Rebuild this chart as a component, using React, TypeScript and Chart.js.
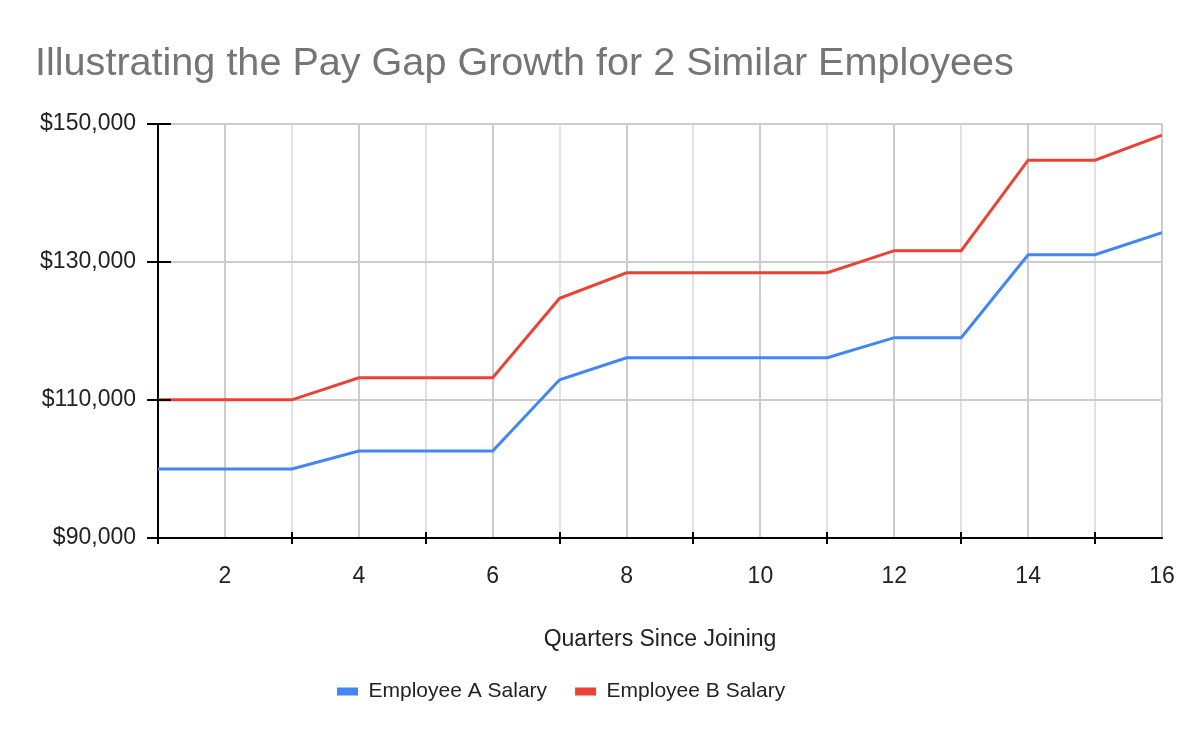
import React, { useEffect, useRef } from "react";
import { Chart, registerables } from "chart.js";

Chart.register(...registerables);

const TITLE = "Illustrating the Pay Gap Growth for 2 Similar Employees";
const X_TITLE = "Quarters Since Joining";
const quarters = [1, 2, 3, 4, 5, 6, 7, 8, 9, 10, 11, 12, 13, 14, 15, 16];
const employeeA = [100000, 100000, 100000, 102600, 102600, 102600, 112900, 116100, 116100, 116100, 116100, 119000, 119000, 131000, 131000, 134200];
const employeeB = [110000, 110000, 110000, 113200, 113200, 113200, 124700, 128400, 128400, 128400, 128400, 131600, 131600, 144700, 144700, 148300];
const seriesNames = ["Employee A Salary", "Employee B Salary"];
const seriesColors = ["#4285F4", "#EA4335"];
const yTicks = [90000, 110000, 130000, 150000];
const xTickLabels = [2, 4, 6, 8, 10, 12, 14, 16];

const FONT = "Arial, 'Liberation Sans', sans-serif";

const axisTicks = {
  id: "axisTicks",
  afterDatasetsDraw(chart: any) {
    const { ctx, chartArea, scales } = chart;
    const x = scales.x;
    const y = scales.y;
    ctx.save();
    ctx.strokeStyle = "#000000";
    ctx.lineWidth = 2;
    ctx.beginPath();
    quarters
      .filter((q) => !xTickLabels.includes(q))
      .forEach((q) => {
        const px = Math.round(x.getPixelForValue(q));
        ctx.moveTo(px, chartArea.bottom - 6);
        ctx.lineTo(px, chartArea.bottom + 6);
      });
    yTicks.forEach((v) => {
      const py = Math.round(y.getPixelForValue(v));
      ctx.moveTo(chartArea.left - 11, py);
      ctx.lineTo(chartArea.left + 13, py);
    });
    ctx.stroke();
    ctx.restore();
  },
};

const legendShift = {
  id: "legendShift",
  afterLayout(chart: any) {
    const lg = chart.legend;
    if (!lg || !lg.lineWidths) return;
    const pad = lg.options.labels.padding;
    const x0 = (lg.left + pad + (lg.right - lg.lineWidths[0])) / 2;
    const dx = 337 - x0;
    lg.left += dx;
    lg.right += dx;
  },
};

export default function App() {
  const ref = useRef<HTMLCanvasElement | null>(null);

  useEffect(() => {
    if (!ref.current) return;
    const chart = new Chart(ref.current, {
      type: "line",
      data: {
        datasets: [
          {
            label: seriesNames[0],
            data: quarters.map((q, i) => ({ x: q, y: employeeA[i] })),
            borderColor: seriesColors[0],
            backgroundColor: seriesColors[0],
            borderWidth: 3,
            pointRadius: 0,
            tension: 0,
          },
          {
            label: seriesNames[1],
            data: quarters.map((q, i) => ({ x: q, y: employeeB[i] })),
            borderColor: seriesColors[1],
            backgroundColor: seriesColors[1],
            borderWidth: 3,
            pointRadius: 0,
            tension: 0,
          },
        ],
      },
      options: {
        responsive: false,
        animation: false,
        devicePixelRatio: 1,
        layout: { padding: { left: 35, right: 38, top: 0, bottom: 30 } },
        plugins: {
          title: {
            display: true,
            text: TITLE,
            align: "start",
            color: "#757575",
            font: { family: FONT, size: 39.6, weight: "normal" },
            padding: { top: 40, bottom: 36 },
          },
          legend: {
            position: "bottom",
            labels: {
              boxWidth: 21,
              boxHeight: 8,
              padding: 28,
              color: "#222222",
              font: { family: FONT, size: 21 },
              generateLabels: (ch: any) =>
                Chart.defaults.plugins.legend.labels.generateLabels(ch).map((it: any) => ({
                  ...it,
                  lineWidth: 0,
                })),
            },
          },
          tooltip: { enabled: false },
        },
        scales: {
          x: {
            type: "linear",
            min: 1,
            max: 16,
            afterBuildTicks: (scale: any) => {
              scale.ticks = quarters.map((q) => ({ value: q }));
            },
            afterFit: (scale: any) => {
              scale.height = 115;
            },
            ticks: {
              autoSkip: false,
              maxRotation: 0,
              padding: 25,
              color: "#222222",
              font: { family: FONT, size: 23 },
              callback: (v: any) => (xTickLabels.includes(Number(v)) ? String(v) : ""),
            },
            grid: {
              drawTicks: false,
              lineWidth: 2,
              color: (ctx: any) =>
                ctx.tick && xTickLabels.includes(ctx.tick.value) ? "#cccccc" : "#e2e2e2",
            },
            border: { color: "#000000", width: 2 },
            title: {
              display: true,
              text: X_TITLE,
              color: "#222222",
              font: { family: FONT, size: 23 },
              padding: { top: 0, bottom: 0 },
            },
          },
          y: {
            type: "linear",
            min: 90000,
            max: 150000,
            afterBuildTicks: (scale: any) => {
              scale.ticks = yTicks.map((v) => ({ value: v }));
            },
            afterFit: (scale: any) => {
              scale.width = 123;
            },
            ticks: {
              padding: 22,
              color: "#222222",
              font: { family: FONT, size: 23 },
              callback: (v: any) => "$" + Number(v).toLocaleString("en-US"),
            },
            grid: { drawTicks: false, lineWidth: 2, color: "#cccccc" },
            border: { color: "#000000", width: 2 },
          },
        },
      },
      plugins: [axisTicks, legendShift],
    });
    return () => chart.destroy();
  }, []);

  return (
    <div style={{ position: "absolute", left: 0, top: 0, width: 1200, height: 742, background: "#ffffff" }}>
      <canvas ref={ref} width={1200} height={742} />
    </div>
  );
}
